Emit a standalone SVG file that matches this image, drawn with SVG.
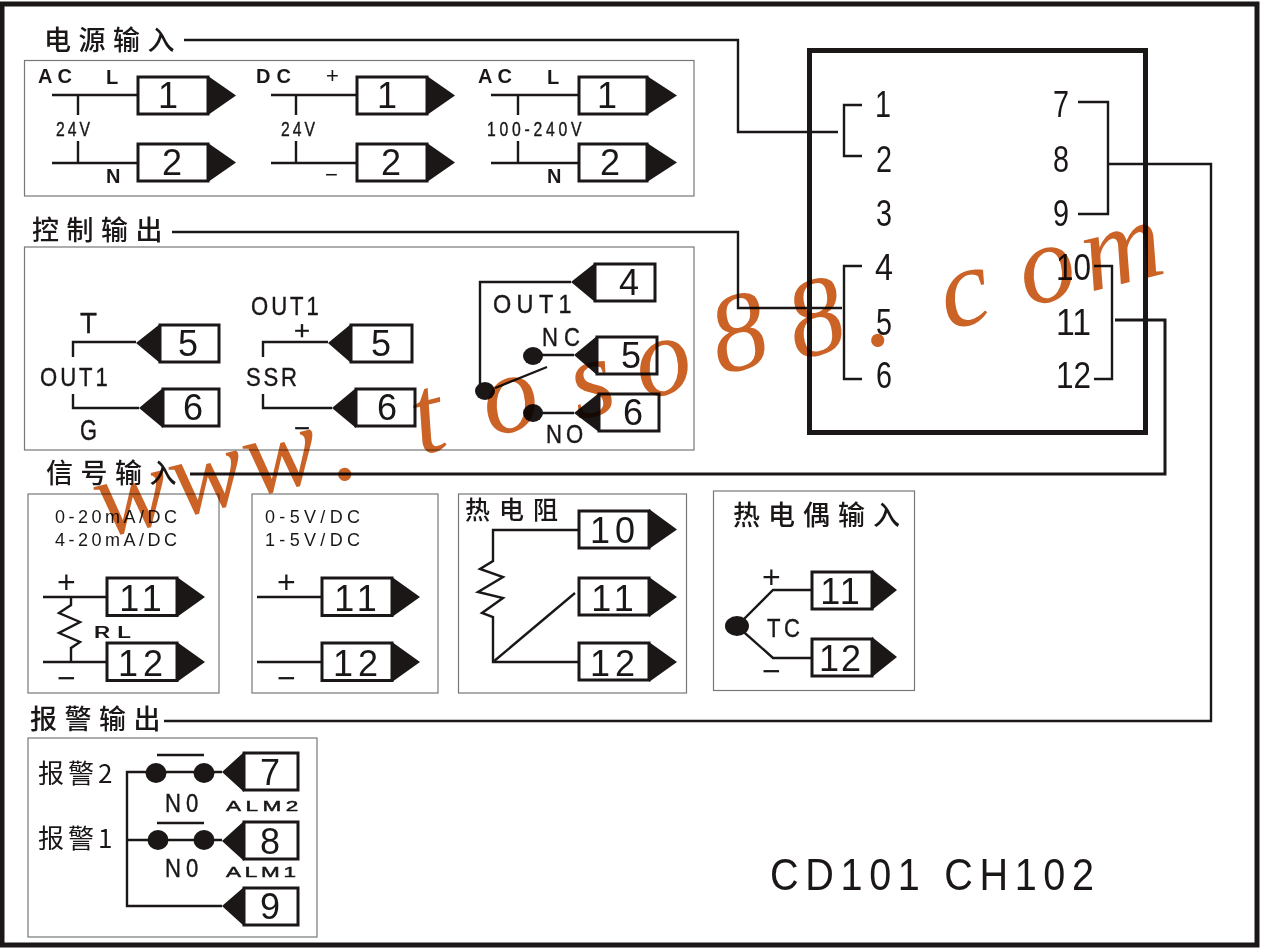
<svg xmlns="http://www.w3.org/2000/svg" width="1261" height="948" viewBox="0 0 1261 948">
<style>
text{font-family:"Liberation Sans",Arial,"Noto Sans CJK SC",sans-serif;fill:#1a1716}
.cjk{font-family:"Noto Sans CJK SC","Liberation Sans",sans-serif;font-size:27px;font-weight:500;letter-spacing:7.500px}
.num{font-size:36px;text-anchor:middle}
.num2{font-size:36px;text-anchor:middle;letter-spacing:5px}
.nar{font-size:26px;stroke:#1a1716;stroke-width:.4}
.dev{font-size:36px}
.sm{font-size:18px}
.wd{font-size:20px;font-weight:bold}
.pm{font-size:32px}
.pms{font-size:22px}
.panel{fill:none;stroke:#777;stroke-width:1.2}
.box{fill:#fff;stroke:#1a1716;stroke-width:3}
.tip{fill:#1a1716;stroke:none}
.w{fill:none;stroke:#1a1716;stroke-width:2.4;stroke-linejoin:miter}
.dot{fill:#1a1716}
.mark{font-family:"Liberation Serif","Times New Roman",serif;font-style:italic;font-size:112px;fill:#cb6327;mix-blend-mode:multiply}
</style>
<rect width="1261" height="948" fill="#fff"/>
<rect x="2" y="4" width="1255" height="941" fill="none" stroke="#1a1716" stroke-width="5"/>

<g id="panels">
<rect class="panel" x="24.5" y="60.5" width="669.5" height="135.5"/>
<rect class="panel" x="24.5" y="247" width="669.5" height="203"/>
<rect class="panel" x="28" y="494" width="191" height="199"/>
<rect class="panel" x="252" y="494" width="186" height="199"/>
<rect class="panel" x="458.5" y="494" width="228" height="199"/>
<rect class="panel" x="713.5" y="491" width="201" height="199.500"/>
<rect class="panel" x="28" y="738" width="289" height="199"/>
</g>

<g id="connectors">
<polyline class="w" points="184,40 738,40 738,132 838,132"/>
<polyline class="w" points="172,232 738,232 738,308 842,308"/>
<polyline class="w" points="190,474 1165,474 1165,320 1115,320" style="stroke-width:3"/>
<polyline class="w" points="164,721 1211,721 1211,164 1108,164"/>
<polyline class="w" points="862,105 844,105 844,156 862,156"/>
<polyline class="w" points="862,266 844,266 844,379 862,379"/>
<polyline class="w" points="1078,102 1108,102 1108,214 1078,214"/>
<polyline class="w" points="1094,266 1112,266 1112,379 1094,379"/>
<path class="w" d="M52 95H138M78 95V115M78 141V163M52 163H138"/>
<path class="w" d="M271 95H357M296 95V115M296 141V163M271 163H357"/>
<path class="w" d="M491 95H579M518 95V115M518 141V163M491 163H579"/>
<path class="w" d="M73 357V342H136M73 394V408H139"/>
<path class="w" d="M263 357V342H328M263 394V408H332"/>
<path class="w" d="M480 391V282H571M495 388L547 367M533 355H574M533 413H574"/>
<path class="w" d="M43 597H107M43 662H107M257 597H322M257 662H322"/>
<polyline class="w" points="71,597 71,605 59,613 80,622 59,633 80,642 71,648 71,662"/>
<polyline class="w" points="579,530 493,530 493,561 480,569 503,577 478,592 503,598 482,613 493,617 493,662 579,662"/>
<path class="w" d="M493 662L575 593"/>
<polyline class="w" points="737,626 773,590 812,590"/>
<polyline class="w" points="737,626 773,658 812,658"/>
<path class="w" d="M222 772H127V906H222M127 840H222M157 755H204M157 823H204"/>
</g>

<g id="device">
<rect x="809.5" y="50.500" width="336" height="382" fill="none" stroke="#1a1716" stroke-width="5"/>
<text class="dev" x="875" y="117" textLength="16" lengthAdjust="spacingAndGlyphs">1</text>
<text class="dev" x="876" y="172" textLength="16" lengthAdjust="spacingAndGlyphs">2</text>
<text class="dev" x="876" y="226" textLength="16" lengthAdjust="spacingAndGlyphs">3</text>
<text class="dev" x="875" y="280" textLength="18" lengthAdjust="spacingAndGlyphs">4</text>
<text class="dev" x="876" y="335" textLength="16" lengthAdjust="spacingAndGlyphs">5</text>
<text class="dev" x="876" y="388" textLength="16" lengthAdjust="spacingAndGlyphs">6</text>
<text class="dev" x="1053" y="117" textLength="16" lengthAdjust="spacingAndGlyphs">7</text>
<text class="dev" x="1053" y="172" textLength="16" lengthAdjust="spacingAndGlyphs">8</text>
<text class="dev" x="1053" y="226" textLength="16" lengthAdjust="spacingAndGlyphs">9</text>
<text class="dev" x="1056" y="280" textLength="35" lengthAdjust="spacingAndGlyphs">10</text>
<text class="dev" x="1056" y="335" textLength="35" lengthAdjust="spacingAndGlyphs">11</text>
<text class="dev" x="1056" y="388" textLength="35" lengthAdjust="spacingAndGlyphs">12</text>
</g>

<g id="headings">
<text class="cjk" x="44" y="50">电源输入</text>
<text class="cjk" x="32" y="240">控制输出</text>
<text class="cjk" x="46" y="483">信号输入</text>
<text class="cjk" x="30" y="729">报警输出</text>
</g>

<g id="power-labels">
<text class="wd" x="38" y="83" textLength="34">AC</text><text class="wd" x="106" y="84">L</text><text class="wd" x="106" y="183">N</text>
<text class="nar" transform="translate(56 136) scale(.75 1)" style="font-size:21px;letter-spacing:4px">24V</text>
<text class="wd" x="256" y="83" textLength="35">DC</text><text class="pms" x="326" y="83">+</text><text class="pms" x="325" y="182">−</text>
<text class="nar" transform="translate(281 136) scale(.75 1)" style="font-size:21px;letter-spacing:4px">24V</text>
<text class="wd" x="478" y="83" textLength="34">AC</text><text class="wd" x="547" y="84">L</text><text class="wd" x="547" y="183">N</text>
<text class="nar" transform="translate(487 136) scale(.75 1)" style="font-size:21px;letter-spacing:5px">100-240V</text>
</g>

<g id="term-p1">
<g id="t-ac-1"><rect class="box" x="138" y="77" width="70" height="37"/><polygon class="tip" points="208,76 236,95.500 208,115"/><text class="num" x="168" y="108">1</text></g>
<g id="t-ac-2"><rect class="box" x="138" y="144" width="70" height="37"/><polygon class="tip" points="208,143 236,162.500 208,182"/><text class="num" x="172" y="175">2</text></g>
<g id="t-dc-1"><rect class="box" x="357" y="77" width="70" height="37"/><polygon class="tip" points="427,76 455,95.500 427,115"/><text class="num" x="387" y="108">1</text></g>
<g id="t-dc-2"><rect class="box" x="357" y="144" width="70" height="37"/><polygon class="tip" points="427,143 455,162.500 427,182"/><text class="num" x="391" y="175">2</text></g>
<g id="t-ac2-1"><rect class="box" x="579" y="77" width="68" height="37"/><polygon class="tip" points="647,76 677,95.500 647,115"/><text class="num" x="607" y="108">1</text></g>
<g id="t-ac2-2"><rect class="box" x="579" y="144" width="68" height="37"/><polygon class="tip" points="647,143 677,162.500 647,182"/><text class="num" x="610" y="175">2</text></g>
</g>

<g id="output-labels">
<text class="nar" x="80" y="333" textLength="17" lengthAdjust="spacingAndGlyphs" style="font-size:30px">T</text>
<text class="nar" transform="translate(40 386) scale(.85 1)" style="letter-spacing:3.500px">OUT1</text>
<text class="nar" x="80" y="440" textLength="17" lengthAdjust="spacingAndGlyphs" style="font-size:30px">G</text>
<text class="nar" transform="translate(251 315) scale(.85 1)" style="letter-spacing:3.500px">OUT1</text>
<text class="nar" x="294" y="339" textLength="16" lengthAdjust="spacingAndGlyphs">+</text>
<text class="nar" transform="translate(246 386) scale(.85 1)" style="letter-spacing:3.300px">SSR</text>
<text class="nar" x="294" y="437" textLength="16" lengthAdjust="spacingAndGlyphs">−</text>
<text class="nar" transform="translate(493 313) scale(.9 1)" style="letter-spacing:6px">OUT1</text>
<text class="nar" transform="translate(542 346) scale(.85 1)" style="letter-spacing:7px">NC</text>
<text class="nar" transform="translate(546 443) scale(.85 1)" style="letter-spacing:4.700px">NO</text>
<ellipse class="dot" cx="485" cy="391" rx="10" ry="9"/>
<ellipse class="dot" cx="533" cy="356" rx="10" ry="9"/>
<ellipse class="dot" cx="533" cy="413" rx="10" ry="9"/>
</g>

<g id="term-p2">
<g id="t-t-5"><rect class="box" x="160" y="325" width="59" height="37"/><polygon class="tip" points="160,324 136,343 160,363"/><text class="num" x="188" y="356">5</text></g>
<g id="t-g-6"><rect class="box" x="163" y="389" width="56" height="37"/><polygon class="tip" points="163,388 139,408 163,428"/><text class="num" x="193" y="420">6</text></g>
<g id="t-ssr-5"><rect class="box" x="351" y="325" width="61" height="37"/><polygon class="tip" points="351,324 328,343 351,363"/><text class="num" x="381" y="356">5</text></g>
<g id="t-ssr-6"><rect class="box" x="356" y="389" width="59" height="37"/><polygon class="tip" points="356,388 332,408 356,428"/><text class="num" x="387" y="420">6</text></g>
<g id="t-rel-4"><rect class="box" x="595" y="264" width="60" height="37"/><polygon class="tip" points="595,263 571,282 595,302"/><text class="num" x="629" y="295">4</text></g>
<g id="t-rel-5"><rect class="box" x="597" y="337" width="60" height="37"/><polygon class="tip" points="597,336 574,355 597,375"/><text class="num" x="631" y="368">5</text></g>
<g id="t-rel-6"><rect class="box" x="599" y="394" width="60" height="37"/><polygon class="tip" points="599,393 574,413 599,432"/><text class="num" x="633" y="425">6</text></g>
</g>

<g id="signal-labels">
<text class="sm" x="55" y="523" textLength="122">0-20mA/DC</text>
<text class="sm" x="55" y="546" textLength="122">4-20mA/DC</text>
<text class="pm" x="57" y="593">+</text>
<text class="wd" transform="translate(94 638) scale(1.4 1)" style="font-size:16px;letter-spacing:5px">RL</text>
<text class="pm" x="57" y="689">−</text>
<text class="sm" x="265" y="523" textLength="95">0-5V/DC</text>
<text class="sm" x="265" y="546" textLength="95">1-5V/DC</text>
<text class="pm" x="277" y="593">+</text>
<text class="pm" x="277" y="689">−</text>
<text class="cjk" x="465" y="519" style="font-size:25px;letter-spacing:9px">热电阻</text>
<text class="cjk" x="733" y="525" style="letter-spacing:8px">热电偶输入</text>
<text class="pm" x="762" y="588">+</text>
<text class="pm" x="762" y="682">−</text>
<text class="nar" transform="translate(767 637) scale(.85 1)" style="letter-spacing:4px">TC</text>
<ellipse class="dot" cx="737" cy="626" rx="12" ry="10"/>
</g>

<g id="term-p3">
<g id="t-ma-11"><rect class="box" x="107" y="578" width="70" height="37.500"/><polygon class="tip" points="177,577 205,597 177,617"/><text class="num2" x="143" y="611">11</text></g>
<g id="t-ma-12"><rect class="box" x="107" y="643" width="70" height="37.500"/><polygon class="tip" points="177,642 205,662 177,682"/><text class="num2" x="143" y="676">12</text></g>
<g id="t-v-11"><rect class="box" x="322" y="578" width="70" height="37.500"/><polygon class="tip" points="392,577 420,597 392,617"/><text class="num2" x="358" y="611">11</text></g>
<g id="t-v-12"><rect class="box" x="322" y="643" width="70" height="37.500"/><polygon class="tip" points="392,642 420,662 392,682"/><text class="num2" x="358" y="676">12</text></g>
<g id="t-rtd-10"><rect class="box" x="579" y="511" width="70" height="37"/><polygon class="tip" points="649,509 677,529.500 649,549"/><text class="num2" x="615" y="543">10</text></g>
<g id="t-rtd-11"><rect class="box" x="579" y="578" width="70" height="37"/><polygon class="tip" points="649,577 677,597 649,617"/><text class="num2" x="615" y="611">11</text></g>
<g id="t-rtd-12"><rect class="box" x="579" y="643" width="70" height="37"/><polygon class="tip" points="649,642 677,662 649,682"/><text class="num2" x="615" y="676">12</text></g>
<g id="t-tc-11"><rect class="box" x="812" y="572" width="60" height="37"/><polygon class="tip" points="872,570 897,590 872,610"/><text class="num2" x="841" y="604" style="letter-spacing:2px">11</text></g>
<g id="t-tc-12"><rect class="box" x="812" y="639" width="60" height="37"/><polygon class="tip" points="872,637 897,657 872,677"/><text class="num2" x="841" y="671" style="letter-spacing:2px">12</text></g>
</g>

<g id="alarm-labels">
<text class="cjk" x="38" y="783" style="font-size:26px;letter-spacing:4px;font-weight:400">报警2</text>
<text class="cjk" x="38" y="848" style="font-size:26px;letter-spacing:4px;font-weight:400">报警1</text>
<ellipse class="dot" cx="156" cy="773" rx="10.500" ry="10"/><ellipse class="dot" cx="204" cy="773" rx="10.500" ry="10"/>
<ellipse class="dot" cx="158" cy="840" rx="10.500" ry="10"/><ellipse class="dot" cx="204" cy="840" rx="10.500" ry="10"/>
<text class="nar" transform="translate(165 812) scale(.85 1)" style="letter-spacing:6px">N0</text>
<text class="nar" transform="translate(165 877) scale(.85 1)" style="letter-spacing:6px">N0</text>
<text class="wd" transform="translate(226 811) scale(1.5 1)" style="font-size:15px;font-weight:normal;stroke:#1a1716;stroke-width:.5;letter-spacing:3px">ALM2</text>
<text class="wd" transform="translate(226 877) scale(1.5 1)" style="font-size:15px;font-weight:normal;stroke:#1a1716;stroke-width:.5;letter-spacing:2.500px">ALM1</text>
</g>

<g id="term-p4">
<g id="t-alm-7"><rect class="box" x="244" y="753" width="54" height="37"/><polygon class="tip" points="244,752 222,772 244,792"/><text class="num" x="270" y="785">7</text></g>
<g id="t-alm-8"><rect class="box" x="244" y="822" width="54" height="37"/><polygon class="tip" points="244,821 222,841 244,861"/><text class="num" x="270" y="854">8</text></g>
<g id="t-alm-9"><rect class="box" x="244" y="888" width="54" height="37"/><polygon class="tip" points="244,887 222,906 244,926"/><text class="num" x="270" y="919">9</text></g>
</g>

<text id="model" transform="translate(770 890) scale(.9 1)" style="font-size:44px;letter-spacing:7.400px">CD101 CH102</text>

<text id="watermark" class="mark" rotate="-14" x="103 178 252 335 420 490 578 643 720 797 868 948 1027 1090" y="538 518 497 482 455 437 420 400 375 360 348 330 307 292">www.toso88.com</text>
</svg>
